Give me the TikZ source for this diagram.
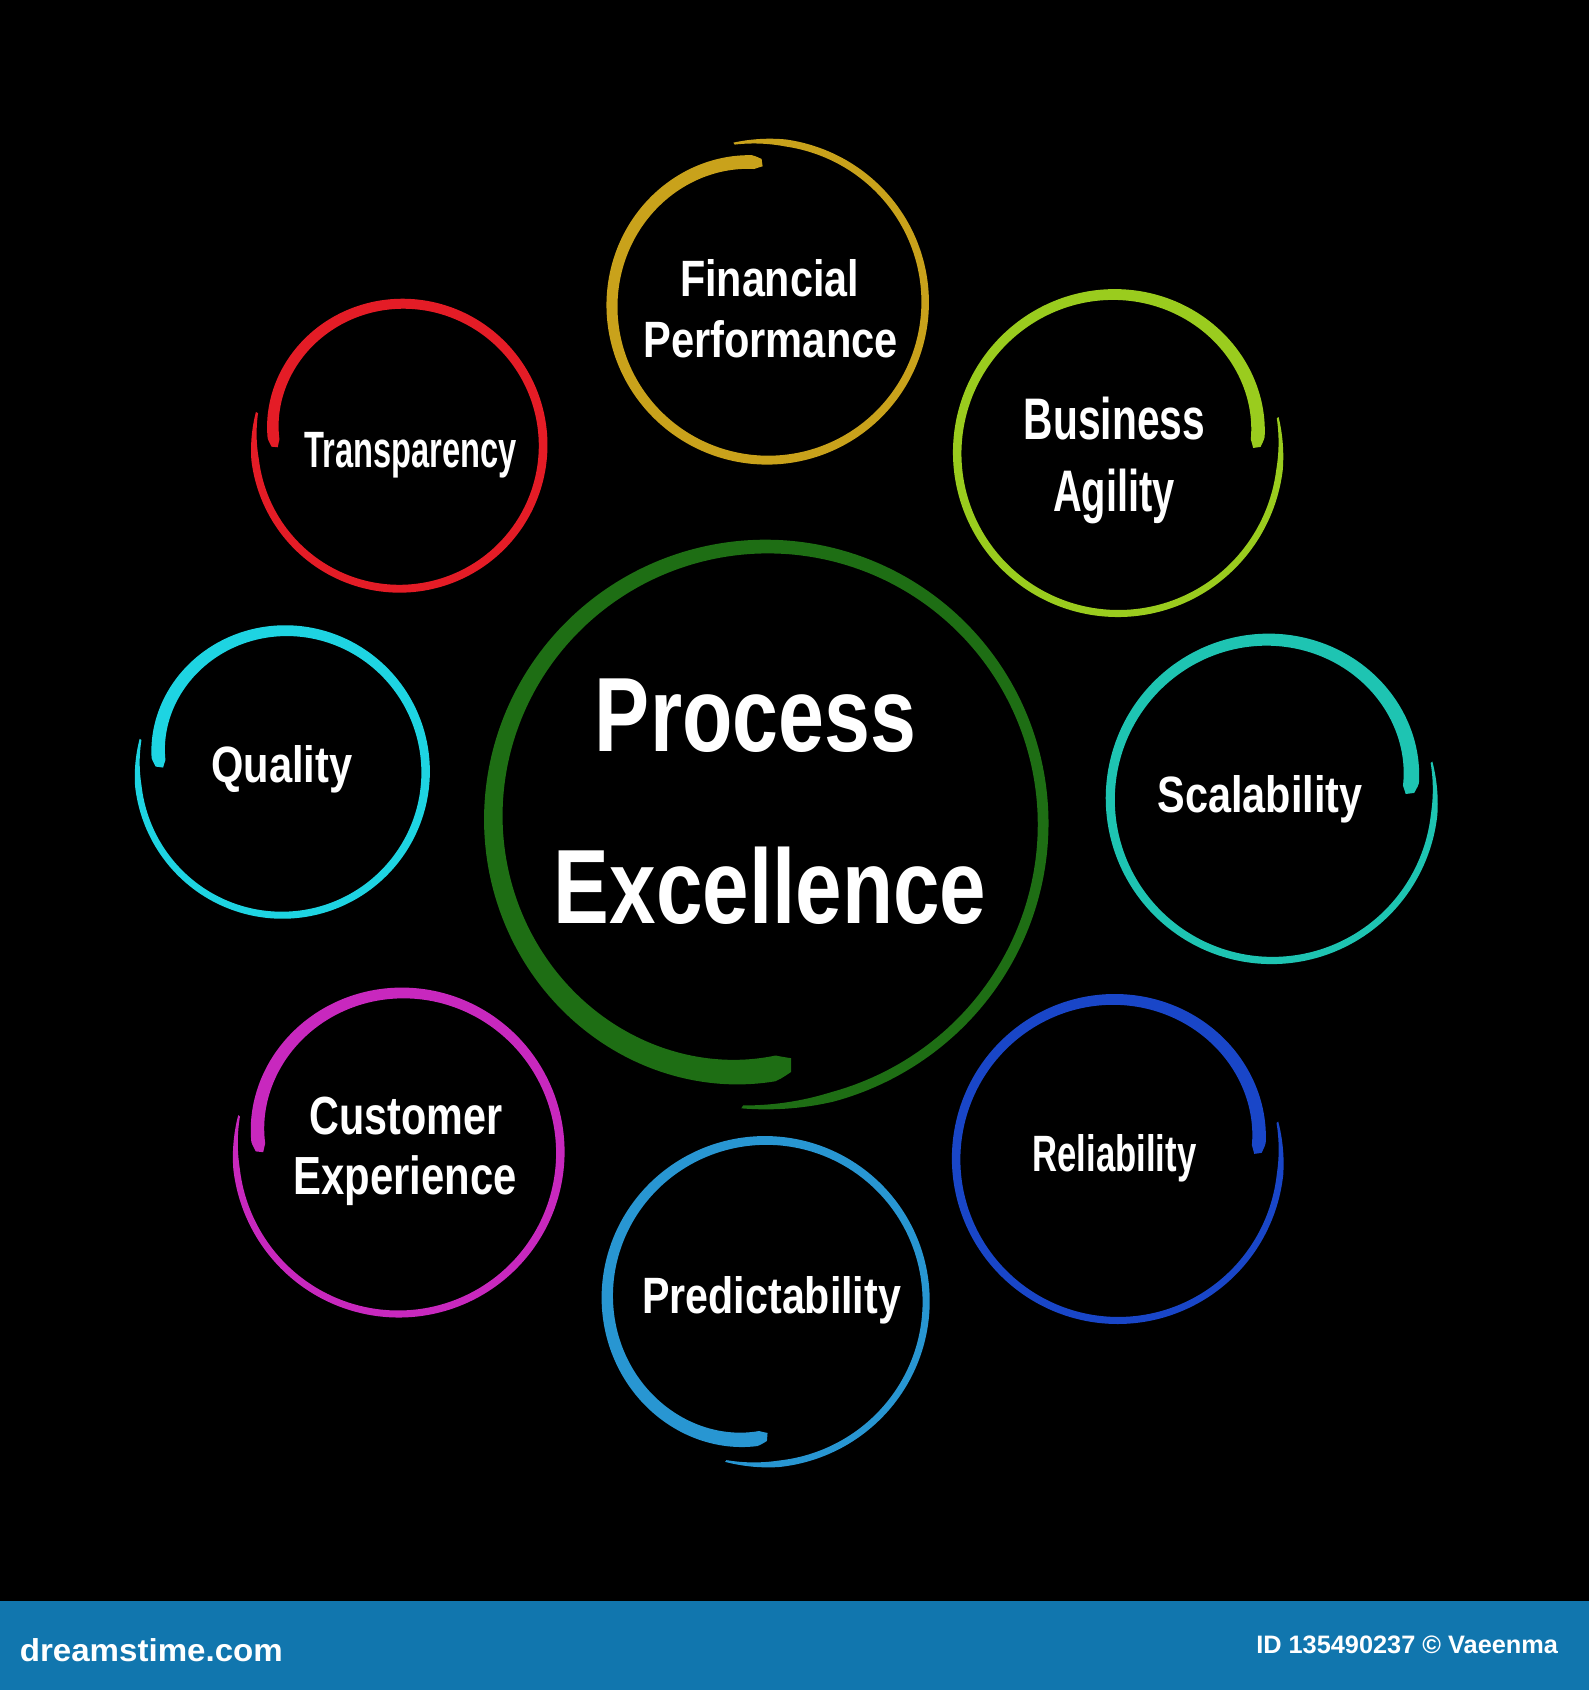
\documentclass[tikz,border=0pt]{standalone}
\usepackage{fontspec}
\usepackage{graphicx}
\setmainfont{Liberation Sans}
\newfontfamily\lblfont{Liberation Sans}
\definecolor{bg}{HTML}{000000}
\definecolor{barblue}{HTML}{1176AE}
\definecolor{cgold}{HTML}{C9A21B}
\definecolor{cred}{HTML}{E41C26}
\definecolor{clime}{HTML}{9ACC1E}
\definecolor{ccyan}{HTML}{1ED4E2}
\definecolor{cteal}{HTML}{1EC4B2}
\definecolor{cgreen}{HTML}{1E6E14}
\definecolor{cmag}{HTML}{C828BE}
\definecolor{csky}{HTML}{2896D2}
\definecolor{cnavy}{HTML}{1946C8}
% #1 centre, #2 colour, #3 radius, #4 start angle, #5 sweep, #6 start offset, #7 end inset, #8 start width, #9 end width
\newcommand\brushring[9]{%
 \begin{scope}[shift={#1}]
 \fill[#2] plot[domain=0:1,samples=300,variable=\x]
  ({(#3+(#6)*(1-\x)^8-(#7)*\x^8+0.5*((#8)+((#9)-(#8))*\x^2)*min(1,0.3+14*\x)*min(1,0.5+50*(1-\x)))*cos((#4)+(#5)*\x)},
   {-(#3+(#6)*(1-\x)^8-(#7)*\x^8+0.5*((#8)+((#9)-(#8))*\x^2)*min(1,0.3+14*\x)*min(1,0.5+50*(1-\x)))*sin((#4)+(#5)*\x)})
  -- plot[domain=1:0,samples=300,variable=\x]
  ({(#3+(#6)*(1-\x)^8-(#7)*\x^8-0.5*((#8)+((#9)-(#8))*\x^2)*min(1,0.3+14*\x)*min(1,0.5+50*(1-\x)))*cos((#4)+(#5)*\x)},
   {-(#3+(#6)*(1-\x)^8-(#7)*\x^8-0.5*((#8)+((#9)-(#8))*\x^2)*min(1,0.3+14*\x)*min(1,0.5+50*(1-\x)))*sin((#4)+(#5)*\x)})
  -- cycle;
 \end{scope}}
\newcommand\fitw[2]{\resizebox{#1}{\height}{#2}}
\tikzset{
  lbl/.style={text=white, inner sep=0pt, anchor=base, font=\lblfont\bfseries\fontsize{23.7pt}{24pt}\selectfont},
  lblbig/.style={lbl, font=\lblfont\bfseries\fontsize{49pt}{50pt}\selectfont},
  credit/.style={text=white, inner sep=0pt},
}
\begin{document}
\begin{tikzpicture}[x=0.5pt,y=-0.5pt]
\useasboundingbox (0,0) rectangle (1474,1568);
\fill[bg] (0,0) rectangle (1474,1568);
\fill[barblue] (0,1485) rectangle (1474,1568);

% rings
\brushring{(711,763)}{cgreen}{256}{265}{371}{9}{30}{9}{24}
\brushring{(712,281)}{cgold}{146}{102}{-370}{5}{16}{6.5}{13}
\brushring{(371,413)}{cred}{133}{167}{374}{3}{17}{7}{11}
\brushring{(1037,420)}{clime}{149}{12.5}{-370.5}{3}{20}{6}{13}
\brushring{(262,716)}{ccyan}{133}{167}{371}{2}{19}{6}{13}
\brushring{(1180,741)}{cteal}{150}{13}{-371}{2}{22}{6}{15}
\brushring{(370,1069)}{cmag}{150}{167}{373}{2}{21}{6}{13}
\brushring{(710,1207)}{csky}{149}{256}{375}{4}{23}{6}{14}
\brushring{(1037,1075)}{cnavy}{150}{13}{-371}{2}{20}{6}{13}

% labels
\node[lblbig] (pe1) at (701,697) {\fitw{149pt}{Process}};
\node[lblbig] (pe2) at (714.5,857) {\fitw{200.5pt}{Excellence}};
\node[lbl] (fp1) at (714,275.5) {\fitw{83pt}{Financial}};
\node[lbl] (fp2) at (715,332) {\fitw{118pt}{Performance}};
\node[lbl] (tr) at (381,434) {\fitw{98.5pt}{Transparency}};
\node[lbl, font=\lblfont\bfseries\fontsize{27.2pt}{28pt}\selectfont] (ba1) at (1034,408) {\fitw{84pt}{Business}};
\node[lbl, font=\lblfont\bfseries\fontsize{27.2pt}{28pt}\selectfont] (ba2) at (1033.5,475) {\fitw{56.5pt}{Agility}};
\node[lbl] (qu) at (261.5,726) {\fitw{65.5pt}{Quality}};
\node[lbl] (sc) at (1169,754) {\fitw{95pt}{Scalability}};
\node[lbl, font=\lblfont\bfseries\fontsize{24.9pt}{25pt}\selectfont] (ce1) at (376.5,1053) {\fitw{89.5pt}{Customer}};
\node[lbl, font=\lblfont\bfseries\fontsize{24.9pt}{25pt}\selectfont] (ce2) at (376,1108.5) {\fitw{103.5pt}{Experience}};
\node[lbl] (pr) at (716,1219) {\fitw{120pt}{Predictability}};
\node[lbl] (re) at (1034,1087) {\fitw{76pt}{Reliability}};

% credit bar
\node[credit, anchor=base west, font=\lblfont\bfseries\fontsize{14.7pt}{15pt}\selectfont] (dt) at (18,1542) {\fitw{122pt}{dreamstime.com}};
\node[credit, anchor=base east, font=\lblfont\bfseries\fontsize{11.7pt}{12pt}\selectfont] (id) at (1446,1534) {\fitw{140pt}{ID 135490237 © Vaeenma}};
\end{tikzpicture}
\end{document}
